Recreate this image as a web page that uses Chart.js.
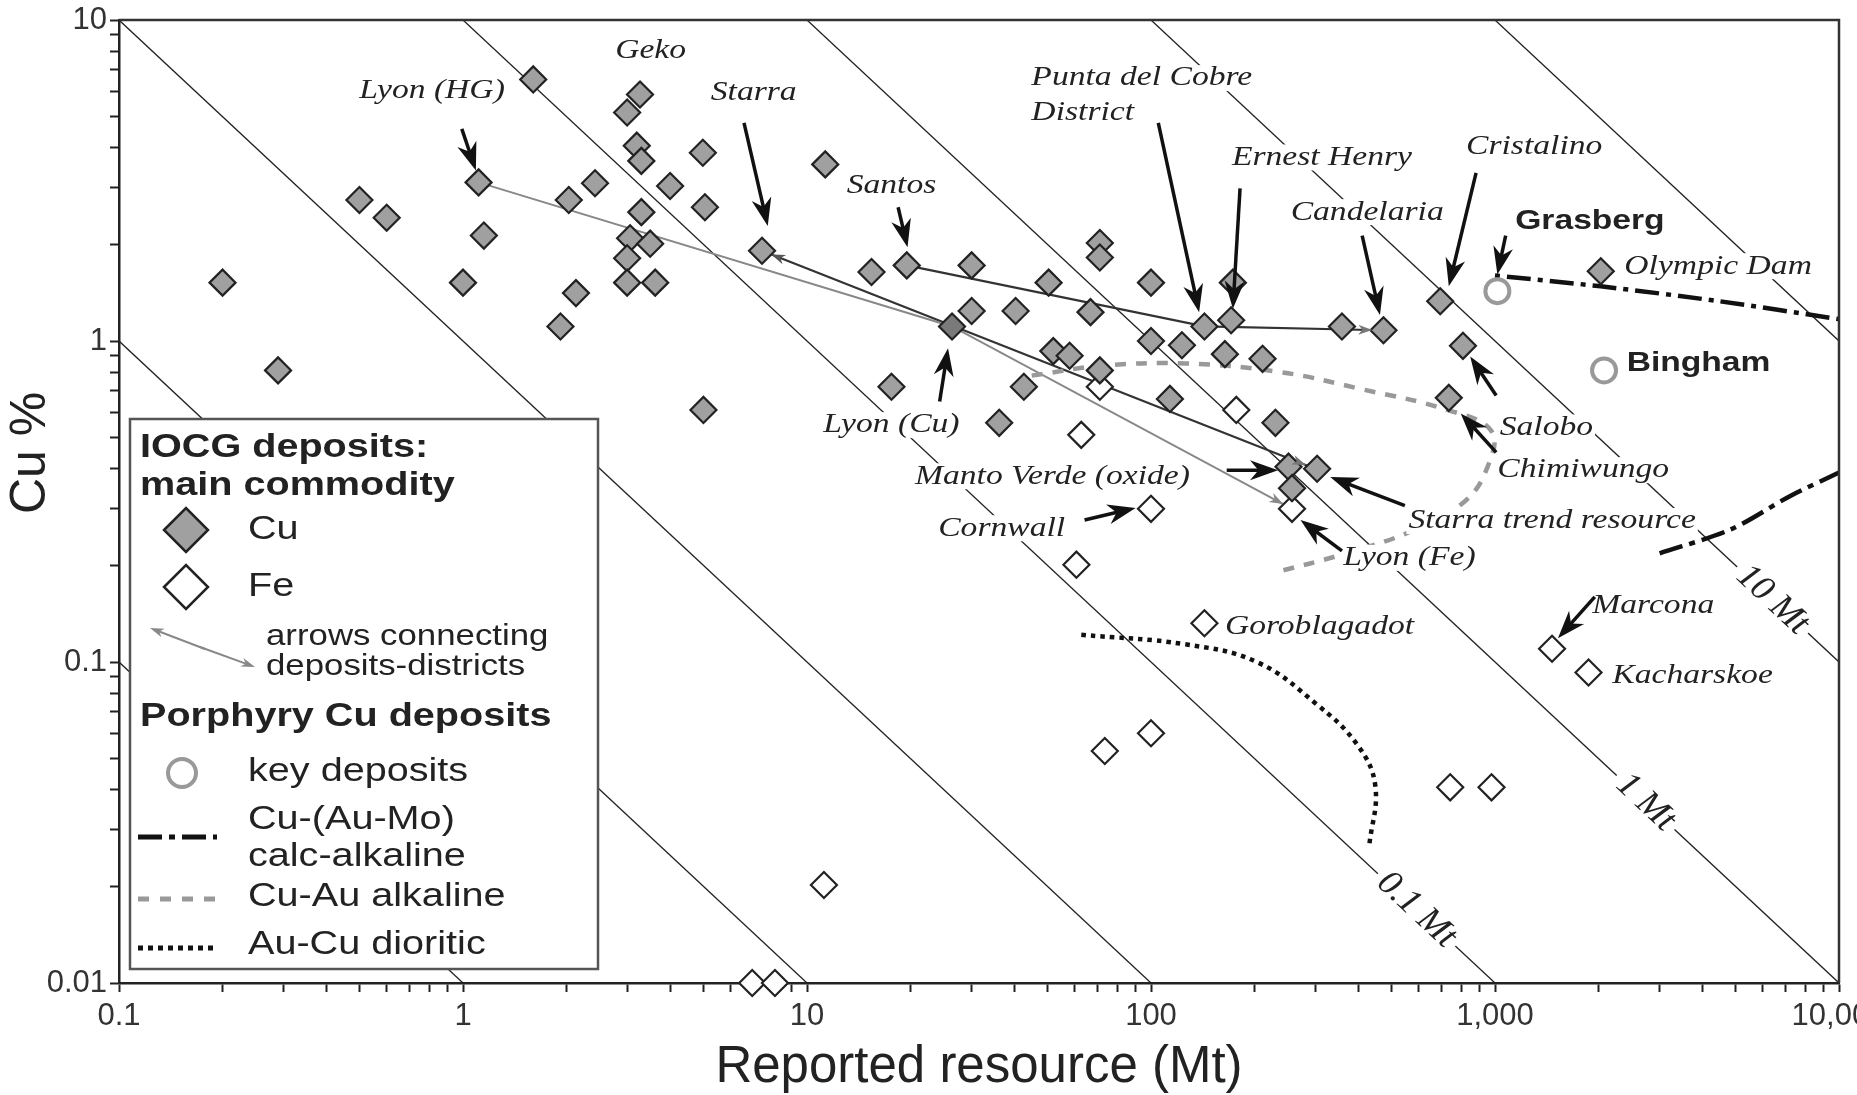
<!DOCTYPE html>
<html>
<head>
<meta charset="utf-8">
<script src="https://cdn.jsdelivr.net/npm/chart.js@4.4.1/dist/chart.umd.min.js"></script>
<style>
  html, body { margin: 0; padding: 0; background: #fff; }
</style>
</head>
<body>
<canvas id="chart" width="1857" height="1095"></canvas>
<script>
// ---- IOCG deposits: reported resource (Mt) vs Cu grade (%) ----

// Cu as main commodity
const cuTonnage = [0.2, 0.29, 0.5, 0.6, 1.0, 1.11, 1.15, 1.6, 1.92, 2.03, 2.13, 2.42, 3.0, 3.27, 3.2, 3.3, 3.3, 3.06, 3.5, 3.0, 3.0, 3.62, 4.0, 4.98, 5.05, 5.0, 7.4, 11.3, 15.4, 19.5, 17.6, 26.4, 30.1, 30.1, 40.4, 36.2, 42.7, 50.4, 52, 58, 66.7, 71, 71, 71, 100, 100, 123, 113.5, 143, 164, 173, 171, 211, 230, 251, 304, 257, 359, 474, 693, 807, 734, 2030];
const cuGrade = [1.52, 0.81, 2.75, 2.42, 1.52, 3.12, 2.13, 6.53, 1.11, 2.75, 1.41, 3.1, 5.15, 5.86, 4.06, 3.64, 2.52, 2.09, 2.01, 1.81, 1.52, 1.52, 3.04, 3.86, 2.61, 0.61, 1.91, 3.55, 1.64, 1.72, 0.72, 1.11, 1.72, 1.24, 1.24, 0.556, 0.72, 1.52, 0.93, 0.9, 1.23, 2.02, 1.82, 0.81, 1.52, 1.0, 0.97, 0.66, 1.11, 0.91, 1.52, 1.16, 0.88, 0.556, 0.406, 0.40, 0.348, 1.11, 1.08, 1.33, 0.966, 0.665, 1.65];
const lyonCuIndex = 31; // drawn a shade darker

// Fe as main commodity
const feTonnage = [6.93, 8.07, 11.2, 60.7, 62.7, 71, 73.4, 100, 100, 143, 177, 257, 741, 977, 1465, 1870];
const feGrade = [0.01, 0.01, 0.0202, 0.201, 0.51, 0.72, 0.0528, 0.30, 0.060, 0.132, 0.61, 0.30, 0.0407, 0.0407, 0.11, 0.0927];

// porphyry key deposits
const keyNames = ["Grasberg", "Bingham"];
const keyTonnage = [1016, 2075];
const keyGrade = [1.43, 0.81];

// porphyry fields
const calcAlkUpperX = [1000, 2030, 4490, 10000];
const calcAlkUpperY = [1.6, 1.48, 1.33, 1.17];
const calcAlkLowerX = [3010, 4850, 7220, 10000];
const calcAlkLowerY = [0.218, 0.259, 0.329, 0.389];
const alkalineX = [45, 72, 126, 238, 414, 723, 977, 952, 813, 569, 353, 238];
const alkalineY = [0.78, 0.837, 0.851, 0.80, 0.706, 0.611, 0.524, 0.406, 0.315, 0.255, 0.215, 0.192];
const dioriticX = [62.7, 126, 203, 301, 398, 449, 431];
const dioriticY = [0.1216, 0.1135, 0.1, 0.0743, 0.0552, 0.041, 0.0268];

// deposit-district connections
const lyonTrendX = [1.11, 26.4, 257];
const lyonTrendY = [3.12, 1.11, 0.30];
const starraTrendX = [7.4, 300];
const starraTrendY = [1.91, 0.40];
const santosTrendX = [19.5, 143, 470];
const santosTrendY = [1.72, 1.11, 1.08];

// contained metal lines (Mt Cu)
const isoMetal = [0.0001, 0.001, 0.01, 0.1, 1, 10, 100];

// axis ticks
const xMajor = [0.1, 1, 10, 100, 1000, 10000];
const xMajorLabels = ["0.1", "1", "10", "100", "1,000", "10,000"];
const yMajor = [0.01, 0.1, 1, 10];
const yMajorLabels = ["0.01", "0.1", "1", "10"];

// ---- annotations (text placed in data units) ----
const SANS = '"Liberation Sans", Arial, sans-serif';
const SERIF = '"Liberation Serif", "Times New Roman", serif';
const STRETCH = 1.2;

const notes = [
  { t: "Lyon (HG)", x: 0.813, y: 6.01, a: "center" },
  { t: "Geko", x: 3.51, y: 8.02, a: "center" },
  { t: "Starra", x: 7.0, y: 5.96, a: "center" },
  { t: "Santos", x: 17.6, y: 3.04, a: "center" },
  { t: "Punta del Cobre", x: 44.9, y: 6.59, a: "left" },
  { t: "District", x: 44.9, y: 5.15, a: "left" },
  { t: "Ernest Henry", x: 314, y: 3.73, a: "center" },
  { t: "Candelaria", x: 425, y: 2.52, a: "center" },
  { t: "Cristalino", x: 1300, y: 4.03, a: "center" },
  { t: "Olympic Dam", x: 2377, y: 1.71, a: "left" },
  { t: "Lyon (Cu)", x: 17.6, y: 0.547, a: "center" },
  { t: "Manto Verde (oxide)", x: 51.7, y: 0.379, a: "center" },
  { t: "Cornwall", x: 36.8, y: 0.261, a: "center" },
  { t: "Starra trend resource", x: 560, y: 0.275, a: "left" },
  { t: "Lyon (Fe)", x: 362, y: 0.211, a: "left" },
  { t: "Salobo", x: 1032, y: 0.538, a: "left" },
  { t: "Chimiwungo", x: 1016, y: 0.396, a: "left" },
  { t: "Marcona", x: 1918, y: 0.150, a: "left" },
  { t: "Kacharskoe", x: 2193, y: 0.091, a: "left" },
  { t: "Goroblagadot", x: 164, y: 0.129, a: "left" }
];
const boldNotes = [
  { t: "Grasberg", x: 1145, y: 2.36 },
  { t: "Bingham", x: 2414, y: 0.851 }
];
// [tailX, tailY, headX, headY]
const pointers = [
  [0.992, 4.58, 1.09, 3.40],
  [6.56, 4.78, 7.69, 2.28],
  [18.4, 2.61, 19.6, 1.96],
  [105, 4.78, 138, 1.23],
  [181.5, 2.99, 173, 1.26],
  [411, 2.13, 463, 1.205],
  [881, 3.34, 734, 1.48],
  [1074, 2.13, 1016, 1.61],
  [24.3, 0.648, 25.7, 0.95],
  [166, 0.396, 234, 0.396],
  [64.1, 0.277, 90.2, 0.302],
  [547, 0.307, 332, 0.377],
  [359, 0.222, 272, 0.277],
  [1008, 0.676, 847, 0.895],
  [1008, 0.45, 795, 0.595],
  [1950, 0.1596, 1524, 0.1186]
];
const isoLabels = [
  { metal: 0.1, x: 592, t: "0.1 Mt" },
  { metal: 1, x: 2740, t: "1 Mt" },
  { metal: 10, x: 6410, t: "10 Mt" }
];

// ---- helpers ----
function pts(xs, ys) { return xs.map((v, i) => ({ x: v, y: ys[i] })); }

function isoEnds(metal) {
  const k = metal * 100; // tonnage * grade
  let x1 = k / 10, y1 = 10;
  if (x1 < 0.1) { x1 = 0.1; y1 = k / 0.1; }
  let x2 = k / 0.01, y2 = 0.01;
  if (x2 > 10000) { x2 = 10000; y2 = k / 10000; }
  return [{ x: x1, y: y1 }, { x: x2, y: y2 }];
}

function minorTicks(majors) {
  const out = [];
  majors.forEach((m, i) => {
    out.push(m);
    if (i < majors.length - 1) for (let s = 2; s <= 9; s++) out.push(+(m * s).toPrecision(6));
  });
  return out;
}

function labelFor(majors, labels, v) {
  const i = majors.findIndex(m => Math.abs(m - v) / m < 1e-6);
  return i >= 0 ? labels[i] : "";
}

function sText(ctx, text, px, py, align, font, box) {
  ctx.save();
  ctx.font = font;
  const w = ctx.measureText(text).width * STRETCH;
  const left = align === "center" ? px - w / 2 : px;
  if (box) {
    ctx.fillStyle = "#fff";
    ctx.fillRect(left - 2, py - box / 2, w + 4, box);
  }
  ctx.translate(left, py);
  ctx.scale(STRETCH, 1);
  ctx.fillStyle = "#222";
  ctx.textAlign = "left";
  ctx.textBaseline = "middle";
  ctx.fillText(text, 0, 0);
  ctx.restore();
}

function arrow(ctx, x1, y1, x2, y2, color, lw, len, wid) {
  const a = Math.atan2(y2 - y1, x2 - x1);
  const c = Math.cos(a), s = Math.sin(a);
  const bx = x2 - len * c, by = y2 - len * s;
  ctx.save();
  ctx.strokeStyle = color;
  ctx.fillStyle = color;
  ctx.lineWidth = lw;
  ctx.beginPath();
  ctx.moveTo(x1, y1);
  ctx.lineTo(x2 - len * 0.6 * c, y2 - len * 0.6 * s);
  ctx.stroke();
  ctx.beginPath();
  ctx.moveTo(x2, y2);
  ctx.lineTo(bx + (wid / 2) * s, by - (wid / 2) * c);
  ctx.lineTo(x2 - len * 0.7 * c, y2 - len * 0.7 * s);
  ctx.lineTo(bx - (wid / 2) * s, by + (wid / 2) * c);
  ctx.closePath();
  ctx.fill();
  ctx.restore();
}

function head(ctx, xs, ys, sx, sy, from, to, color) {
  const p1 = [sx.getPixelForValue(xs[from]), sy.getPixelForValue(ys[from])];
  const p2 = [sx.getPixelForValue(xs[to]), sy.getPixelForValue(ys[to])];
  const a = Math.atan2(p2[1] - p1[1], p2[0] - p1[0]);
  const tx = p2[0] - 10 * Math.cos(a), ty = p2[1] - 10 * Math.sin(a);
  arrow(ctx, tx - 1 * Math.cos(a), ty - 1 * Math.sin(a), tx, ty, color, 1, 14, 10);
}

// ---- plugins ----
const annotate = {
  id: "annotate",
  afterDatasetsDraw(chart) {
    const { ctx, chartArea: ca } = chart;
    const sx = chart.scales.x, sy = chart.scales.y;
    const P = (vx, vy) => [sx.getPixelForValue(vx), sy.getPixelForValue(vy)];

    // labels on the contained-metal lines
    isoLabels.forEach(l => {
      const k = l.metal * 100;
      const [px, py] = P(l.x, k / l.x);
      const a = P(l.x / 2, 2 * k / l.x), b = P(l.x * 2, k / (2 * l.x));
      ctx.save();
      ctx.translate(px, py);
      ctx.rotate(Math.atan2(b[1] - a[1], b[0] - a[0]));
      ctx.font = "italic 36px " + SERIF;
      const w = ctx.measureText(l.t).width;
      ctx.fillStyle = "#fff";
      ctx.fillRect(-w / 2 - 6, -16, w + 12, 32);
      ctx.fillStyle = "#222";
      ctx.textAlign = "center";
      ctx.textBaseline = "middle";
      ctx.fillText(l.t, 0, 0);
      ctx.restore();
    });

    notes.forEach(n => {
      const [px, py] = P(n.x, n.y);
      sText(ctx, n.t, px, py, n.a, "italic 28px " + SERIF, 26);
    });
    boldNotes.forEach(n => {
      const [px, py] = P(n.x, n.y);
      sText(ctx, n.t, px, py, "left", "bold 28px " + SANS, 28);
    });

    pointers.forEach(p => {
      const [x1, y1] = P(p[0], p[1]);
      const [x2, y2] = P(p[2], p[3]);
      arrow(ctx, x1, y1, x2, y2, "#111", 3.5, 28, 20);
    });

    // arrowheads of the deposit-district connections
    head(ctx, starraTrendX, starraTrendY, sx, sy, 1, 0, "#555");
    head(ctx, starraTrendX, starraTrendY, sx, sy, 0, 1, "#777");
    head(ctx, santosTrendX, santosTrendY, sx, sy, 1, 2, "#777");
    head(ctx, lyonTrendX, lyonTrendY, sx, sy, 1, 2, "#888");

    // frame on top and right
    ctx.save();
    ctx.strokeStyle = "#333";
    ctx.lineWidth = 2.5;
    ctx.beginPath();
    ctx.moveTo(ca.left, ca.top);
    ctx.lineTo(ca.right, ca.top);
    ctx.lineTo(ca.right, ca.bottom);
    ctx.stroke();
    ctx.restore();
  }
};

function diamond(ctx, x, y, r, fill) {
  ctx.beginPath();
  ctx.moveTo(x - r, y); ctx.lineTo(x, y - r); ctx.lineTo(x + r, y); ctx.lineTo(x, y + r);
  ctx.closePath();
  ctx.fillStyle = fill; ctx.fill();
  ctx.strokeStyle = "#222"; ctx.lineWidth = 2.5; ctx.stroke();
}

function sample(ctx, y, color, width, dash) {
  ctx.save();
  ctx.strokeStyle = color; ctx.lineWidth = width; ctx.setLineDash(dash);
  ctx.beginPath(); ctx.moveTo(138, y); ctx.lineTo(217, y); ctx.stroke();
  ctx.restore();
}

const legendBox = {
  id: "legendBox",
  afterDraw(chart) {
    const ctx = chart.ctx;
    const L = 130, T = 419, R = 598, B = 969;
    ctx.save();
    ctx.fillStyle = "#fff";
    ctx.fillRect(L, T, R - L, B - T);
    ctx.strokeStyle = "#555";
    ctx.lineWidth = 2.5;
    ctx.strokeRect(L, T, R - L, B - T);
    const bold = "bold 33px " + SANS, reg = "33px " + SANS, small = "29px " + SANS;
    sText(ctx, "IOCG deposits:", 140, 448, "left", bold);
    sText(ctx, "main commodity", 140, 486, "left", bold);
    diamond(ctx, 186, 530, 22, "#a0a0a0");
    sText(ctx, "Cu", 248, 530, "left", reg);
    diamond(ctx, 186, 587, 22, "#fff");
    sText(ctx, "Fe", 248, 587, "left", reg);
    arrow(ctx, 200, 647, 255, 667, "#888", 2, 14, 9);
    arrow(ctx, 205, 649, 150, 628, "#888", 2, 14, 9);
    sText(ctx, "arrows connecting", 266, 637, "left", small);
    sText(ctx, "deposits-districts", 266, 667, "left", small);
    sText(ctx, "Porphyry Cu deposits", 140, 717, "left", bold);
    ctx.beginPath();
    ctx.arc(182, 773, 14, 0, Math.PI * 2);
    ctx.strokeStyle = "#999"; ctx.lineWidth = 4; ctx.stroke();
    sText(ctx, "key deposits", 248, 772, "left", reg);
    sample(ctx, 837, "#111", 5, [24, 7, 6, 7]);
    sText(ctx, "Cu-(Au-Mo)", 248, 820, "left", reg);
    sText(ctx, "calc-alkaline", 248, 857, "left", reg);
    sample(ctx, 899, "#999", 5, [11, 11]);
    sText(ctx, "Cu-Au alkaline", 248, 897, "left", reg);
    sample(ctx, 948, "#111", 5, [5, 5]);
    sText(ctx, "Au-Cu dioritic", 248, 945, "left", reg);
    ctx.restore();
  }
};

// ---- chart ----
const isoSets = isoMetal.map(m => ({
  data: isoEnds(m),
  showLine: true,
  borderColor: "#222",
  borderWidth: 1.3,
  pointRadius: 0,
  order: 10
}));

const lineSet = (xs, ys, color, width, dash, tension) => ({
  data: pts(xs, ys),
  showLine: true,
  borderColor: color,
  borderWidth: width,
  borderDash: dash,
  pointRadius: 0,
  tension: tension,
  order: 7
});

new Chart(document.getElementById("chart"), {
  type: "scatter",
  data: {
    datasets: [
      ...isoSets,
      lineSet(calcAlkUpperX, calcAlkUpperY, "#111", 4.5, [5, 7, 24, 7], 0.3),
      lineSet(calcAlkLowerX, calcAlkLowerY, "#111", 4.5, [24, 7, 6, 7], 0.3),
      lineSet(alkalineX, alkalineY, "#999", 4.5, [11, 10], 0.4),
      lineSet(dioriticX, dioriticY, "#111", 4.5, [4.5, 5], 0.4),
      lineSet(lyonTrendX, lyonTrendY, "#888", 2, [], 0),
      lineSet(starraTrendX, starraTrendY, "#333", 2.2, [], 0),
      lineSet(santosTrendX, santosTrendY, "#333", 2.2, [], 0),
      {
        label: "Fe",
        data: pts(feTonnage, feGrade),
        pointStyle: "rectRot",
        pointRadius: 13,
        backgroundColor: "#fff",
        borderColor: "#222",
        borderWidth: 2.2,
        clip: false,
        order: 3
      },
      {
        label: "Cu",
        data: pts(cuTonnage, cuGrade),
        pointStyle: "rectRot",
        pointRadius: 13,
        backgroundColor: c => (c.dataIndex === lyonCuIndex ? "#7a7a7a" : "#a0a0a0"),
        borderColor: "#222",
        borderWidth: 2.2,
        clip: false,
        order: 2
      },
      {
        label: "key deposits",
        data: pts(keyTonnage, keyGrade),
        pointStyle: "circle",
        pointRadius: 12,
        backgroundColor: "rgba(255,255,255,0)",
        borderColor: "#999",
        borderWidth: 4,
        clip: false,
        order: 2
      }
    ]
  },
  options: {
    responsive: false,
    animation: false,
    devicePixelRatio: 1,
    events: [],
    layout: { padding: { top: 20, right: 18, left: 0, bottom: 0 } },
    plugins: { legend: { display: false }, tooltip: { enabled: false } },
    scales: {
      x: {
        type: "logarithmic",
        min: 0.1,
        max: 10000,
        afterBuildTicks: s => { s.ticks = minorTicks(xMajor).map(v => ({ value: v })); },
        afterFit: s => { s.height = 112; s.paddingLeft = 0; s.paddingRight = 0; },
        ticks: {
          autoSkip: false,
          maxRotation: 0,
          padding: 6,
          color: "#333",
          font: { family: SANS, size: 31 },
          callback: v => labelFor(xMajor, xMajorLabels, v)
        },
        grid: { drawOnChartArea: false, tickLength: 9, tickWidth: 2, tickColor: "#222" },
        border: { width: 2.5, color: "#222" },
        title: {
          display: true,
          text: "Reported resource (Mt)",
          color: "#222",
          font: { family: SANS, size: 51, lineHeight: 1 },
          padding: { top: 0, bottom: 2 }
        }
      },
      y: {
        type: "logarithmic",
        min: 0.01,
        max: 10,
        afterBuildTicks: s => { s.ticks = minorTicks(yMajor).map(v => ({ value: v })); },
        afterFit: s => { s.width = 119; s.paddingTop = 0; s.paddingBottom = 0; },
        ticks: {
          autoSkip: false,
          padding: 3,
          color: "#333",
          font: { family: SANS, size: 31 },
          callback: v => labelFor(yMajor, yMajorLabels, v)
        },
        grid: { drawOnChartArea: false, tickLength: 9, tickWidth: 2, tickColor: "#222" },
        border: { width: 2.5, color: "#222" },
        title: {
          display: true,
          text: "       Cu %",
          color: "#222",
          font: { family: SANS, size: 50, lineHeight: 1.1 },
          padding: { top: 4, bottom: 0 }
        }
      }
    }
  },
  plugins: [annotate, legendBox]
});
</script>
</body>
</html>
